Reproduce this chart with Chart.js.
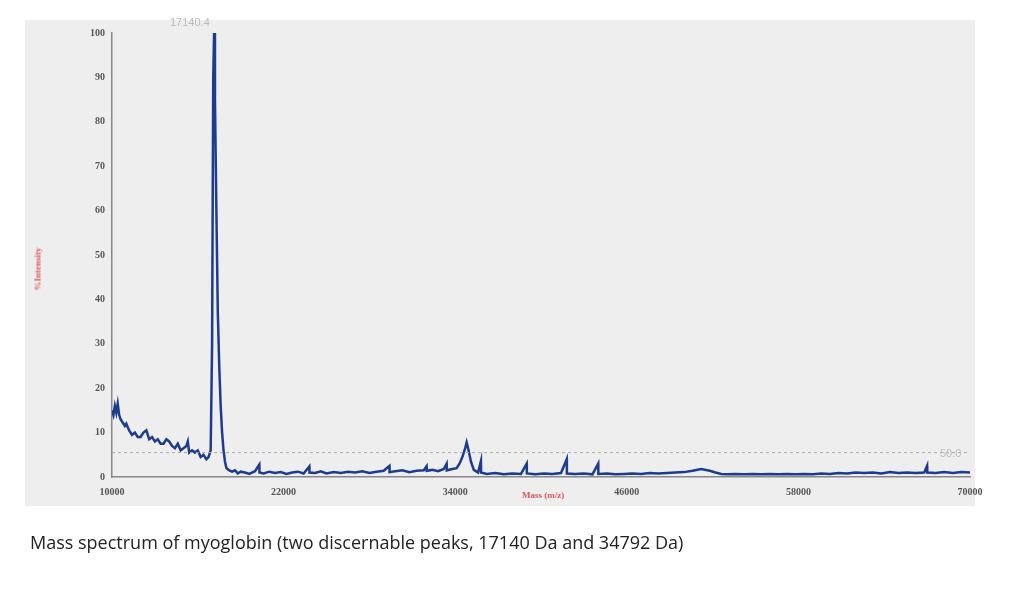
<!DOCTYPE html>
<html><head><meta charset="utf-8">
<script src="https://cdn.jsdelivr.net/npm/chart.js@4"></script>
<style>
body{margin:0;background:#fff;width:1024px;height:596px;position:relative;overflow:hidden;font-family:"Open Sans",sans-serif}
#bg{position:absolute;left:25px;top:20px;width:950px;height:486px;background:#eeeeee}
#wrap{position:absolute;left:0;top:0;width:1024px;height:596px}
.t{position:absolute;white-space:nowrap}
</style></head><body>
<div id="bg"></div>
<div id="wrap"><canvas id="c" width="1024" height="596"></canvas></div>
<div class="t" style="left:170px;top:16px;font:11px 'Liberation Sans';color:#bbb">17140.4</div>
<div class="t" style="left:940px;top:447px;font:11px 'Liberation Sans';color:#bbb">50.0</div>
<div class="t" style="left:522px;top:490px;font:bold 9px 'Liberation Serif';color:#e05555">Mass (m/z)</div>
<div class="t" style="left:16px;top:264px;font:bold 9px 'Liberation Serif';color:#e05555;transform:rotate(-90deg)">%Intensity</div>
<div class="t" style="left:30px;top:530px;font:18px 'Open Sans';color:#222">Mass spectrum of myoglobin (two discernable peaks, 17140 Da and 34792 Da)</div>
<script>
const mass = [
10000,10100,10200,10300,10400,10500,10600,10700,10800,10900,
11000,11200,11400,11600,11800,12000,12200,12400,12600,12800,
13000,13200,13400,13600,13800,14000,14200,14400,14600,14800,
15000,15200,15300,15400,15600,15800,16000,16200,16400,16600,
16750,16900,17000,17080,17140,17200,17300,17400,17500,17600,
17700,17800,17900,18000,18200,18400,18600,18800,19000,19300,
19600,20000,20300,20310,20600,21000,21400,21800,22200,22600,
23000,23400,23800,23810,24200,24600,25000,25500,26000,26500,
27000,27500,28000,28500,29000,29400,29410,29800,30300,30800,
31300,31800,32000,32010,32400,32800,33200,33400,33410,33800,
34100,34300,34500,34700,34800,34900,35100,35300,35600,35800,
35810,36200,36800,37400,38000,38600,39000,39010,39600,40200,
40800,41400,41800,41810,42400,43000,43600,44000,44010,44600,
45200,45800,46400,47000,47600,48200,48800,49400,50000,50600,
51200,51800,52200,52600,53000,53600,54200,54800,55400,56000,
56600,57200,57800,58400,59000,59600,60200,60800,61400,62000,
62600,63200,63800,64400,65000,65600,66200,66800,67000,67010,
67600,68200,68800,69400,70000];
const intensity = [
15,14,16,14.5,16.5,14,13,12.5,12,11.5,
12,10.5,9.5,10,9,9,10,10.5,8.5,9,
8,8.5,7.5,7.5,8.5,8,7,6.5,7.5,6,
6.5,7,8,5.5,6,5.5,6,4.5,5,4,
4.5,6,30,90,100,85,60,37,25,16,
10,6,3.5,2,1.5,1.2,1.5,0.8,1.2,1,
0.7,1.3,2.8,1,0.8,1.2,0.9,1.1,0.7,1,
1.2,0.8,2.4,1,0.9,1.3,0.8,1.1,0.9,1.2,
1,1.3,0.9,1.2,1.4,2.5,1.1,1.3,1.5,1.1,
1.4,1.5,2.4,1.4,1.6,1.3,1.8,3,1.5,1.8,
2,3,4.5,6.5,7.8,6.5,3.5,1.6,1,3.6,
1,0.7,0.9,0.6,0.8,0.7,3,0.8,0.6,0.8,
0.7,0.9,4,0.8,0.7,0.8,0.6,3,0.7,0.8,
0.6,0.7,0.8,0.7,0.9,0.8,0.9,1,1.1,1.4,
1.8,1.4,1,0.7,0.6,0.7,0.6,0.7,0.6,0.7,
0.6,0.7,0.6,0.7,0.6,0.8,0.7,0.9,0.8,1,
0.9,1,0.8,1.1,0.9,1,0.9,1,2.5,1,
0.9,1.1,0.9,1.1,1];
const xTicks = [10000,22000,34000,46000,58000,70000];
const yTicks = [0,10,20,30,40,50,60,70,80,90,100];
const thresholdX = [10000,70000];
const thresholdY = [5.5,5.5];

const tickFont = {family:'Liberation Serif',size:10,weight:'bold'};
new Chart(document.getElementById('c'),{
 type:'scatter',
 data:{datasets:[
  {data:thresholdX.map((x,i)=>({x,y:thresholdY[i]})),showLine:true,borderColor:'#aaa',borderWidth:1,borderDash:[3,3],pointRadius:0},
  {data:mass.map((x,i)=>({x,y:intensity[i]})),showLine:true,borderColor:'#1d3b8f',borderWidth:2.5,pointRadius:0,tension:0}
 ]},
 options:{responsive:false,animation:false,
  layout:{padding:{top:33,right:54,left:0,bottom:0}},
  plugins:{legend:{display:false},tooltip:{enabled:false}},
  scales:{
   x:{type:'linear',min:10000,max:70000,
      afterBuildTicks:s=>{s.ticks=xTicks.map(v=>({value:v}));},
      afterFit:s=>{s.height=119;},
      grid:{display:false,drawTicks:true},border:{color:'#888',width:1.5},
      ticks:{color:'#555',font:tickFont,padding:1,maxRotation:0,callback:v=>String(v)}},
   y:{min:0,max:100,
      afterBuildTicks:s=>{s.ticks=yTicks.map(v=>({value:v}));},
      afterFit:s=>{s.width=112;},
      grid:{display:false,drawTicks:true,tickLength:5},border:{color:'#888',width:1.5},
      ticks:{color:'#555',font:tickFont,padding:2}}
  }}
});
</script></body></html>
